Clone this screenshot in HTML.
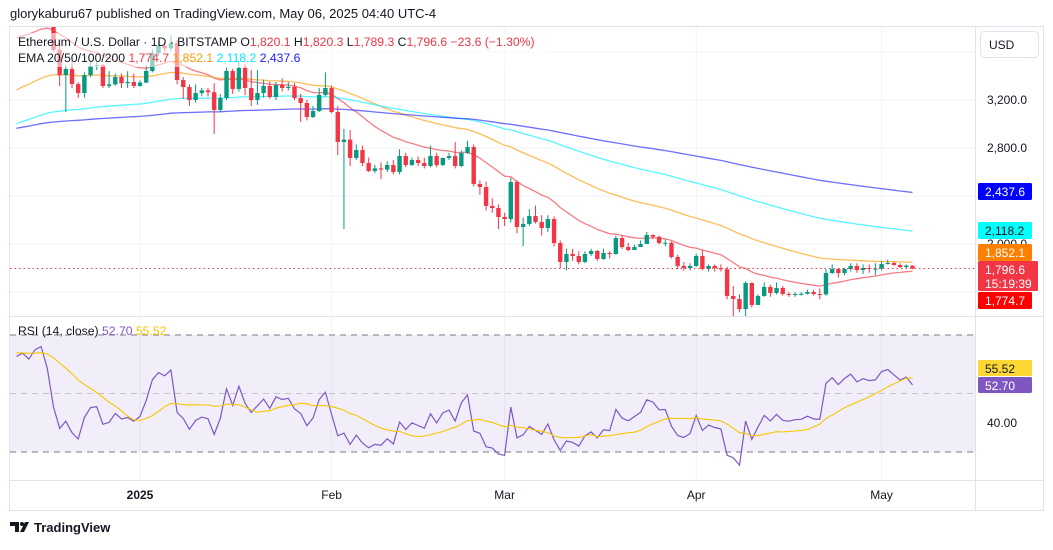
<!DOCTYPE html>
<html><head><meta charset="utf-8"><style>
body{margin:0;background:#fff;width:1053px;height:545px;overflow:hidden;font-family:"Liberation Sans",sans-serif}
svg text{font-family:"Liberation Sans",sans-serif}
</style></head><body>
<svg id="c" width="1053" height="545" xmlns="http://www.w3.org/2000/svg">
<rect x="0" y="0" width="1053" height="545" fill="#fff"/>
<text x="10" y="18" font-size="13" fill="#131722">glorykaburu67 published on TradingView.com, May 06, 2025 04:40 UTC-4</text>
<rect x="9.5" y="26.5" width="1034" height="484" fill="none" stroke="#e0e3eb"/>
<g id="grid"></g>
<rect x="10" y="335" width="965" height="117" fill="#7e57c2" fill-opacity="0.1"/>
<line x1="10" y1="335" x2="975" y2="335" stroke="#787b86" stroke-dasharray="6,5"/>
<line x1="10" y1="393.5" x2="975" y2="393.5" stroke="#aaa" stroke-opacity="0.6" stroke-dasharray="6,5"/>
<line x1="10" y1="452" x2="975" y2="452" stroke="#787b86" stroke-dasharray="6,5"/>
<defs><clipPath id="pc"><rect x="10" y="27" width="965" height="289"/></clipPath><clipPath id="rc"><rect x="10" y="318" width="965" height="162"/></clipPath></defs>
<g id="ema" clip-path="url(#pc)"></g>
<g id="candles" clip-path="url(#pc)"></g>
<line x1="10" y1="268.5" x2="975" y2="268.5" stroke="#f23645" stroke-dasharray="1.5,3"/>
<g id="rsi" clip-path="url(#rc)"></g>
<line x1="975.5" y1="27" x2="975.5" y2="510" stroke="#e0e3eb"/>
<line x1="10" y1="316.5" x2="1043" y2="316.5" stroke="#e0e3eb"/>
<line x1="10" y1="480.5" x2="1043" y2="480.5" stroke="#e0e3eb"/>
<g id="axis"></g>
<rect x="10" y="33" width="540" height="34" fill="#fff" fill-opacity="0.55"/>
<text x="18" y="46" font-size="12.2" fill="#131722">Ethereum / U.S. Dollar · 1D · BITSTAMP <tspan fill="#131722">O</tspan><tspan fill="#f23645">1,820.1</tspan> <tspan fill="#131722">H</tspan><tspan fill="#f23645">1,820.3</tspan> <tspan fill="#131722">L</tspan><tspan fill="#f23645">1,789.3</tspan> <tspan fill="#131722">C</tspan><tspan fill="#f23645">1,796.6</tspan> <tspan fill="#f23645">−23.6 (−1.30%)</tspan></text>
<text x="18" y="62" font-size="12.2" fill="#131722">EMA 20/50/100/200 <tspan fill="#f23645">1,774.7</tspan> <tspan fill="#ff9800">1,852.1</tspan> <tspan fill="#00e5ff">2,118.2</tspan> <tspan fill="#2020ff">2,437.6</tspan></text>
<text x="18" y="335" font-size="12.2" fill="#131722">RSI (14, close) <tspan fill="#7e57c2">52.70</tspan> <tspan fill="#f7c600">55.52</tspan></text>
<rect x="980.5" y="31.5" width="58" height="26" rx="4" fill="#fff" stroke="#e0e3eb"/>
<text x="989" y="49" font-size="12" fill="#131722">USD</text>
<g id="labels"></g>
<g>
<path d="M10 522h9v10h-4v-6h-5zM20 532l5-10h4l-5 10z" fill="#131722"/><circle cx="22" cy="524" r="2" fill="#131722"/>
<text x="34" y="532" font-size="13" font-weight="bold" fill="#131722">TradingView</text></g>
</svg>
<script>
const closes=[3880,3910,3880,3960,3990,3880,3617,3408,3458,3333,3258,3408,3483,3490,3317,3330,3392,3340,3350,3317,
3345,3442,3592,3650,3630,3675,3367,3308,3200,3258,3280,3265,3117,3217,3442,3292,3467,3300,3200,3258,3317,3225,3325,3300,3310,3217,3175,3058,3108,3242,3300,
3100,2850,2870,2717,2783,2675,2608,2630,2620,2658,2600,2733,2658,2700,2675,2650,2733,2658,2717,2733,2650,2758,2808,2500,2475,2317,2300,2225,
2208,2517,2142,2167,2233,2183,2133,2208,2008,1850,1917,1900,1850,1917,1942,1875,1925,1917,2050,1975,1950,1975,2000,2075,2060,2008,2010,1892,1817,1800,1817,
1900,1792,1817,1800,1790,1567,1542,1458,1675,1492,1567,1642,1592,1633,1583,1575,1583,1585,1600,1583,1580,1758,1792,1758,1792,1817,1783,1800,1792,1795,
1833,1842,1825,1808,1820,1796.6];
const highs=[3950,3960,3950,4010,4100,3990,3900,3700,3490,3550,3350,3430,3530,3530,3500,3440,3420,3420,3440,3420,
3365,3490,3620,3690,3680,3740,3700,3390,3330,3330,3300,3300,3340,3250,3470,3460,3520,3500,3450,3450,3370,3350,3350,3380,3350,3340,3250,3200,3150,3300,3430,
3320,3150,2960,2950,2830,2820,2720,2660,2680,2690,2700,2790,2760,2720,2730,2720,2820,2760,2720,2760,2850,2780,2860,2830,2530,2520,2380,2330,
2260,2550,2530,2220,2290,2320,2240,2240,2230,2030,1960,1960,1940,1940,1960,1950,1960,1940,2070,2070,2010,1995,2030,2100,2080,2070,2040,2020,1910,1850,1840,
1920,1950,1830,1830,1830,1810,1650,1580,1690,1680,1580,1680,1660,1680,1650,1600,1600,1600,1620,1620,1630,1790,1830,1800,1800,1840,1840,1830,1830,1840,
1860,1870,1850,1840,1830,1820.3];
const lows=[3840,3860,3850,3860,3940,3850,3600,3317,3100,3300,3217,3220,3390,3450,3300,3300,3320,3300,3300,3300,
3310,3340,3430,3570,3600,3610,3330,3208,3150,3180,3230,3230,2917,3100,3200,3250,3270,3240,3150,3160,3220,3210,3200,3270,3280,3200,3017,3030,3050,3100,3230,
3090,2742,2125,2650,2700,2650,2600,2590,2540,2600,2580,2580,2640,2650,2650,2630,2640,2640,2650,2700,2630,2640,2750,2480,2410,2280,2260,2125,
2150,2180,2090,1983,2150,2170,2070,2100,1980,1800,1780,1860,1830,1840,1900,1860,1870,1880,1910,1960,1940,1960,1980,2000,2040,1995,1980,1880,1790,1780,1780,
1810,1780,1770,1770,1770,1540,1385,1430,1400,1470,1500,1560,1560,1580,1570,1560,1560,1570,1580,1570,1540,1570,1750,1720,1740,1770,1760,1750,1760,1740,
1780,1830,1820,1800,1795,1789.3];
const firstOpen=3850;
const emaPeriods=[20,50,100,200];
const emaSeeds=[3700,3260,2985,2955];
const priceTicks=[3600,3200,2800,2400,2000,1600];
const priceTickLabels=["","3,200.0","2,800.0","","2,000.0",""];
const monthLabels=["2025","Feb","Mar","Apr","May"];
const monthDayIdx=[20,51,79,110,140];
const rsiTicks=[60,40];
const rsiTickLabels=["60.00","40.00"];

const NS="http://www.w3.org/2000/svg";
const X0=16.4, DX=6.18;
function xs(i){return X0+i*DX;}
function ys(p){return 100+(3200-p)*0.12;}
function yr(r){return 393.5-(r-50)*2.925;}
function mk(tag,attrs,parent){const e=document.createElementNS(NS,tag);for(const k in attrs)e.setAttribute(k,attrs[k]);parent.appendChild(e);return e;}

const grid=document.getElementById('grid');
priceTicks.forEach(p=>{const l=mk('line',{x1:10,x2:975,y1:ys(p),y2:ys(p),stroke:'#f0f3fa'},grid);

});
monthDayIdx.forEach(i=>{const l=mk('line',{x1:xs(i),x2:xs(i),y1:27,y2:480,stroke:'#f0f3fa'},grid);

});

const cg=document.getElementById('candles');
closes.forEach((c,i)=>{
  const o=i===0?firstOpen:closes[i-1];
  const col=c>=o?'#089981':'#f23645';
  const x=xs(i);
  const w=mk('line',{x1:x,x2:x,y1:ys(highs[i]),y2:ys(lows[i]),stroke:col,'stroke-width':1},cg);
  
  
  const t=ys(Math.max(o,c)),b=ys(Math.min(o,c));
  const r=mk('rect',{x:x-2.2,y:t,width:4.4,height:Math.max(1,b-t),fill:col},cg);
  
  
});

const eg=document.getElementById('ema');
const emaCols=['#f23645','#ff9800','#00f0ff','#2222ff'];
emaPeriods.forEach((n,k)=>{
  const a=2/(n+1);let e=emaSeeds[k];const pts=[];
  closes.forEach((c,i)=>{e=a*c+(1-a)*e;pts.push(xs(i).toFixed(1)+','+ys(e).toFixed(1));});
  const pl=mk('polyline',{points:pts.join(' '),fill:'none',stroke:emaCols[k],'stroke-opacity':0.65,'stroke-width':1.3},eg);
  
  
});

const rg=document.getElementById('rsi');
let ag=48,al=30;const rsi=[];
closes.forEach((c,i)=>{const o=i===0?firstOpen:closes[i-1];const d=c-o;
  ag=(ag*13+Math.max(d,0))/14;al=(al*13+Math.max(-d,0))/14;rsi.push(100-100/(1+ag/al));});
const ma=rsi.map((v,i)=>{let s=0,n=0;for(let j=i-13;j<=i;j++){s+=j<0?64:rsi[j];n++;}return s/n;});
const rp=mk('polyline',{points:rsi.map((v,i)=>xs(i).toFixed(1)+','+yr(v).toFixed(1)).join(' '),fill:'none',stroke:'#7e57c2','stroke-width':1.2},rg);


const mp=mk('polyline',{points:ma.map((v,i)=>xs(i).toFixed(1)+','+yr(v).toFixed(1)).join(' '),fill:'none',stroke:'#f7c600','stroke-width':1.1},rg);



const ax=document.getElementById('axis');
priceTicks.forEach((p,i)=>{if(!priceTickLabels[i])return;
  const t=mk('text',{x:987,y:ys(p)+4,'font-size':12,fill:'#131722'},ax);t.textContent=priceTickLabels[i];
  
  });
rsiTicks.forEach((r,i)=>{const t=mk('text',{x:987,y:yr(r)+4,'font-size':12,fill:'#131722'},ax);t.textContent=rsiTickLabels[i];
  
  });
monthLabels.forEach((m,i)=>{const t=mk('text',{x:xs(monthDayIdx[i]),y:499,'font-size':12,fill:'#131722','text-anchor':'middle','font-weight':i===0?'bold':'normal'},ax);t.textContent=m;
  
  });

const lg=document.getElementById('labels');
function lab(y,h,bg,fg,lines,name){
  const r=mk('rect',{x:978,y:y,width:h>20?60:54,height:h,rx:1.5,fill:bg},lg);
  
  
  lines.forEach((s,k)=>{const t=mk('text',{x:985,y:y+13+k*14,'font-size':12,fill:fg},lg);t.textContent=s;
    
    });
}
lab(183,17,'#0000ff','#fff',['2,437.6'],'ema200-label');
lab(222,17,'#00ffff','#131722',['2,118.2'],'ema100-label');
lab(244,17,'#ff8000','#fff',['1,852.1'],'ema50-label');
lab(261,30,'#f23645','#fff',['1,796.6','15:19:39'],'last-price-label');
lab(292,17,'#ff0000','#fff',['1,774.7'],'ema20-label');
lab(360,16,'#fdd835','#131722',['55.52'],'rsi-ma-label');
lab(377,16,'#7e57c2','#fff',['52.70'],'rsi-label');
</script>
</body></html>
